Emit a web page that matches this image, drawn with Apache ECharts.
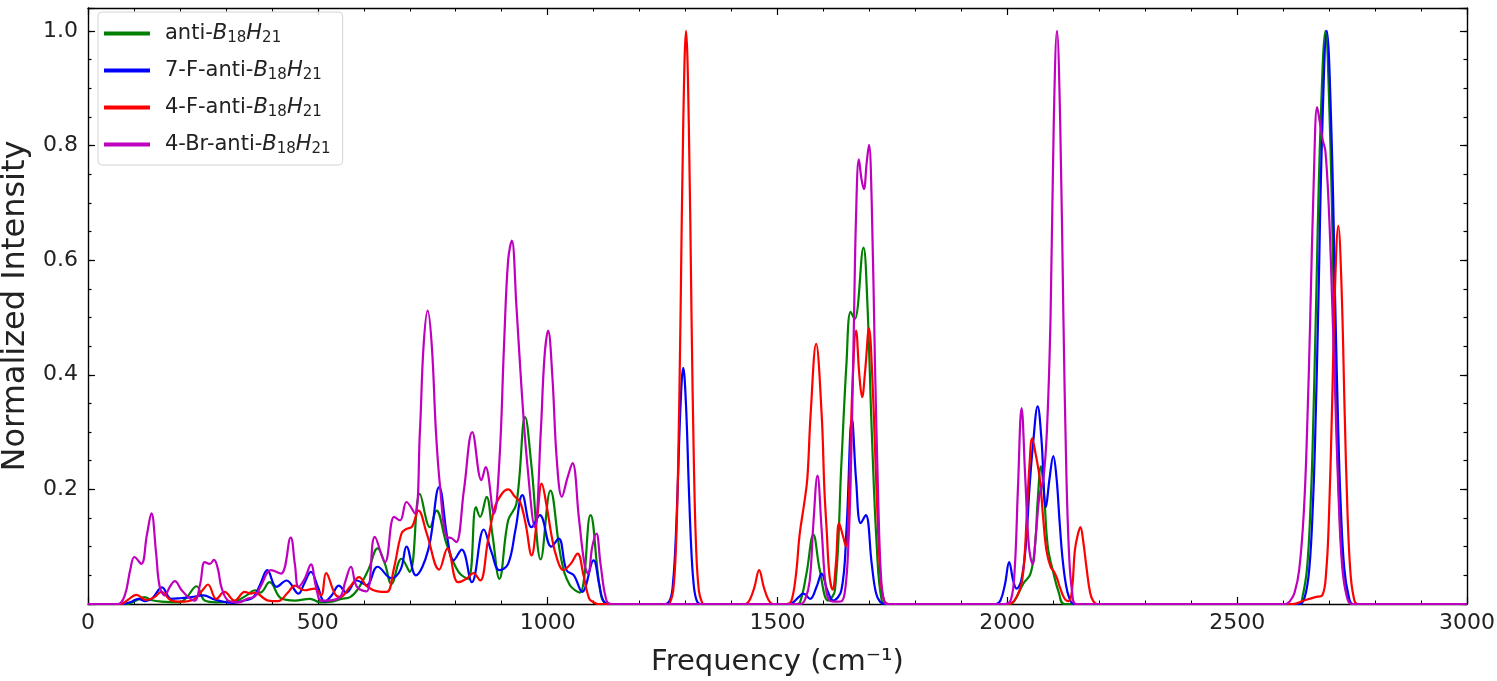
<!DOCTYPE html>
<html>
<head>
<meta charset="utf-8">
<script src="https://cdn.jsdelivr.net/npm/echarts@6/dist/echarts.min.js"></script>
<style>
html, body { margin: 0; padding: 0; background: #fff; }
#chart { width: 1497px; height: 681px; }
</style>
</head>
<body>
<div id="chart"></div>
<script>
// spectra: [frequency (cm-1), normalized intensity]
const antiPts = [
    [0, 0], [85, 0], [105, 0.006], [123, 0.012], [137, 0.007], [160, 0.004], [200, 0.003], [215, 0.012],
    [236, 0.031], [254, 0.006], [280, 0.003], [320, 0.005], [345, 0.015], [363, 0.024], [375, 0.02],
    [395, 0.038], [420, 0.01], [450, 0.006], [483, 0.009], [505, 0.003], [530, 0.004], [551, 0.009],
    [570, 0.012], [588, 0.027], [610, 0.06], [630, 0.097], [646, 0.07], [660, 0.035], [682, 0.079],
    [700, 0.056], [722, 0.192], [744, 0.134], [758, 0.163], [780, 0.105], [806, 0.056], [827, 0.044],
    [844, 0.169], [853, 0.152], [867, 0.187], [880, 0.12], [895, 0.044], [914, 0.146], [932, 0.175],
    [951, 0.326], [965, 0.239], [985, 0.078], [1006, 0.198], [1029, 0.08], [1048, 0.033], [1070, 0.02],
    [1093, 0.155], [1117, 0.012], [1135, 0],
    [1540, 0], [1549, 0.003], [1563, 0.053], [1578, 0.121], [1592, 0.059], [1610, 0.006], [1625, 0.024],
    [1639, 0.245], [1650, 0.419], [1659, 0.51], [1668, 0.497], [1687, 0.622], [1695, 0.535], [1705, 0.303],
    [1716, 0.1], [1727, 0.005], [1740, 0],
    [2005, 0], [2015, 0.005], [2035, 0.036], [2050, 0.052], [2060, 0.1], [2066, 0.18], [2073, 0.24],
    [2080, 0.19], [2088, 0.1], [2100, 0.055], [2112, 0.02], [2125, 0],
    [2635, 0], [2642, 0.012], [2652, 0.062], [2660, 0.178], [2665, 0.3], [2671, 0.5], [2681, 0.825],
    [2692, 1.0], [2702, 0.825], [2711, 0.5], [2717, 0.3], [2722, 0.178], [2730, 0.062], [2740, 0.012],
    [2750, 0], [3000, 0]
];

const f7Pts = [
    [0, 0], [75, 0], [95, 0.004], [109, 0.009], [125, 0.005], [140, 0.01], [161, 0.029], [181, 0.009],
    [200, 0.01], [225, 0.012], [251, 0.015], [275, 0.008], [300, 0.003], [316, 0.002], [340, 0.006],
    [360, 0.012], [375, 0.035], [390, 0.059], [410, 0.03], [432, 0.041], [458, 0.018], [470, 0.035],
    [485, 0.056], [500, 0.03], [515, 0.004], [530, 0.015], [546, 0.032], [562, 0.02], [585, 0.041],
    [606, 0.033], [630, 0.065], [660, 0.045], [680, 0.06], [693, 0.1], [713, 0.05], [740, 0.094],
    [764, 0.204], [782, 0.114], [795, 0.076], [813, 0.095], [835, 0.038], [861, 0.13], [878, 0.09],
    [895, 0.059], [914, 0.07], [930, 0.13], [945, 0.19], [965, 0.134], [983, 0.155], [1008, 0.1],
    [1024, 0.114], [1041, 0.059], [1057, 0.05], [1075, 0.021], [1100, 0.076], [1112, 0.035],
    [1121, 0.006], [1135, 0],
    [1255, 0], [1267, 0.009], [1273, 0.04], [1278, 0.103], [1283, 0.206], [1289, 0.346], [1295, 0.412],
    [1301, 0.346], [1307, 0.206], [1312, 0.103], [1317, 0.04], [1323, 0.009], [1332, 0],
    [1525, 0], [1534, 0.003], [1546, 0.012], [1556, 0.018], [1571, 0.009], [1585, 0.03], [1596, 0.053],
    [1608, 0.025], [1621, 0.006], [1639, 0.024], [1650, 0.129], [1662, 0.323], [1671, 0.216],
    [1681, 0.141], [1692, 0.155], [1705, 0.07], [1714, 0.02], [1723, 0.004], [1735, 0],
    [1975, 0], [1985, 0.006], [1995, 0.035], [2004, 0.073], [2013, 0.04], [2020, 0.027], [2030, 0.04],
    [2040, 0.1], [2048, 0.2], [2056, 0.28], [2066, 0.345], [2074, 0.29], [2084, 0.169], [2092, 0.22],
    [2100, 0.258], [2107, 0.22], [2114, 0.14], [2120, 0.08], [2127, 0.036], [2135, 0.01], [2145, 0],
    [2635, 0], [2647, 0.012], [2657, 0.062], [2665, 0.178], [2670, 0.3], [2676, 0.5], [2685, 0.825],
    [2695, 1.0], [2705, 0.825], [2714, 0.5], [2720, 0.3], [2725, 0.178], [2733, 0.062], [2743, 0.012],
    [2752, 0], [3000, 0]
];

const f4Pts = [
    [0, 0], [70, 0], [85, 0.006], [105, 0.016], [127, 0.007], [145, 0.012], [159, 0.021], [181, 0.006],
    [200, 0.004], [230, 0.008], [250, 0.025], [261, 0.034], [279, 0.009], [297, 0.021], [319, 0.006],
    [341, 0.021], [355, 0.018], [362, 0.02], [392, 0.006], [413, 0.005], [435, 0.02], [450, 0.032],
    [471, 0.024], [493, 0.027], [507, 0.015], [518, 0.054], [537, 0.018], [548, 0.012], [570, 0.03],
    [590, 0.047], [606, 0.031], [630, 0.022], [650, 0.021], [665, 0.06], [682, 0.123], [693, 0.131],
    [705, 0.135], [719, 0.163], [737, 0.123], [764, 0.06], [782, 0.097], [805, 0.038], [825, 0.045],
    [838, 0.054], [853, 0.041], [870, 0.11], [885, 0.169], [900, 0.192], [914, 0.2], [929, 0.187],
    [940, 0.178], [952, 0.14], [965, 0.085], [977, 0.15], [987, 0.21], [998, 0.17], [1009, 0.117],
    [1020, 0.08], [1034, 0.059], [1050, 0.07], [1065, 0.088], [1078, 0.05], [1090, 0.01], [1100, 0.003],
    [1110, 0],
    [1262, 0], [1266, 0.002], [1273, 0.023], [1279, 0.097], [1284, 0.249], [1289, 0.5], [1295, 0.841],
    [1301, 1.0], [1307, 0.841], [1313, 0.5], [1318, 0.249], [1323, 0.097], [1329, 0.023], [1336, 0.002],
    [1340, 0],
    [1430, 0], [1440, 0.008], [1450, 0.03], [1460, 0.059], [1470, 0.03], [1480, 0.008], [1490, 0],
    [1520, 0], [1530, 0.005], [1540, 0.05], [1548, 0.12], [1558, 0.175], [1565, 0.22], [1572, 0.33],
    [1584, 0.454], [1596, 0.332], [1602, 0.2], [1607, 0.129], [1613, 0.05], [1620, 0.025], [1627, 0.07],
    [1634, 0.141], [1642, 0.12], [1649, 0.1], [1656, 0.2], [1663, 0.38], [1671, 0.477], [1678, 0.4],
    [1684, 0.361], [1691, 0.41], [1699, 0.481], [1706, 0.4], [1716, 0.187], [1723, 0.06], [1730, 0.012],
    [1740, 0],
    [2000, 0], [2010, 0.002], [2020, 0.012], [2031, 0.036], [2038, 0.09], [2042, 0.152], [2048, 0.24],
    [2054, 0.289], [2062, 0.26], [2071, 0.216], [2078, 0.15], [2085, 0.094], [2094, 0.065], [2101, 0.057],
    [2108, 0.045], [2114, 0.03], [2124, 0.01], [2133, 0.005], [2140, 0.02], [2147, 0.094], [2153, 0.12],
    [2159, 0.134], [2165, 0.11], [2172, 0.065], [2180, 0.02], [2187, 0.005], [2195, 0],
    [2620, 0], [2645, 0.006], [2670, 0.012], [2685, 0.015], [2694, 0.06], [2700, 0.16], [2706, 0.33],
    [2713, 0.555], [2720, 0.66], [2727, 0.555], [2734, 0.33], [2740, 0.16], [2746, 0.06], [2753, 0.014],
    [2762, 0], [3000, 0]
];

const br4Pts = [
    [0, 0], [65, 0], [80, 0.015], [92, 0.06], [101, 0.082], [116, 0.07], [128, 0.12], [138, 0.158],
    [148, 0.09], [156, 0.03], [167, 0.015], [178, 0.03], [189, 0.04], [203, 0.025], [218, 0.012],
    [232, 0.006], [244, 0.035], [254, 0.073], [265, 0.07], [274, 0.077], [283, 0.06], [290, 0.03],
    [305, 0.006], [327, 0.003], [349, 0.01], [363, 0.013], [377, 0.033], [398, 0.059], [420, 0.053],
    [441, 0.116], [450, 0.07], [458, 0.03], [472, 0.045], [485, 0.069], [496, 0.03], [507, 0.006],
    [519, 0.006], [548, 0.012], [560, 0.04], [572, 0.065], [585, 0.03], [606, 0.022], [624, 0.117],
    [646, 0.073], [666, 0.152], [679, 0.146], [693, 0.178], [711, 0.158], [722, 0.3], [730, 0.45],
    [739, 0.512], [748, 0.45], [757, 0.3], [766, 0.204], [780, 0.117], [791, 0.115], [801, 0.108],
    [818, 0.2], [836, 0.3], [856, 0.216], [865, 0.239], [883, 0.158], [895, 0.25], [905, 0.45],
    [914, 0.6], [922, 0.634], [932, 0.52], [943, 0.378], [955, 0.25], [972, 0.134], [985, 0.3],
    [993, 0.43], [1001, 0.477], [1010, 0.4], [1020, 0.25], [1031, 0.187], [1043, 0.22], [1054, 0.246],
    [1068, 0.15], [1080, 0.07], [1088, 0.053], [1097, 0.1], [1106, 0.123], [1115, 0.07], [1128, 0.006],
    [1140, 0],
    [1550, 0], [1560, 0.008], [1570, 0.04], [1578, 0.14], [1587, 0.224], [1596, 0.13], [1605, 0.03],
    [1614, 0.006], [1630, 0.004], [1640, 0.005], [1648, 0.03], [1654, 0.1], [1659, 0.21], [1666, 0.48],
    [1671, 0.68], [1677, 0.776], [1683, 0.74], [1688, 0.724], [1694, 0.77], [1699, 0.801], [1705, 0.7],
    [1712, 0.42], [1719, 0.187], [1725, 0.05], [1732, 0.005], [1742, 0],
    [1995, 0], [2008, 0.008], [2016, 0.06], [2023, 0.2], [2031, 0.342], [2039, 0.22], [2047, 0.1],
    [2055, 0.07], [2062, 0.12], [2070, 0.19], [2078, 0.216], [2086, 0.3], [2094, 0.5], [2101, 0.84],
    [2108, 1.0], [2115, 0.84], [2122, 0.5], [2128, 0.243], [2134, 0.092], [2141, 0.021], [2150, 0],
    [2605, 0], [2615, 0.005], [2625, 0.02], [2635, 0.06], [2645, 0.16], [2652, 0.3], [2659, 0.5],
    [2667, 0.75], [2674, 0.867], [2680, 0.84], [2686, 0.81], [2692, 0.79], [2700, 0.68], [2707, 0.52],
    [2713, 0.37], [2720, 0.2], [2728, 0.07], [2738, 0.015], [2750, 0], [3000, 0]
];

const seriesNames = ['anti', '7-F-anti', '4-F-anti', '4-Br-anti'];
const seriesData = [antiPts, f7Pts, f4Pts, br4Pts];
const seriesColors = ['#008000', '#0000ff', '#ff0000', '#bf00bf'];
const yTickLabels = ['0.2', '0.4', '0.6', '0.8', '1.0'];

const font = 'DejaVu Sans';
const frame = { color: '#000', width: 1.4 };

let chart = echarts.init(document.getElementById('chart'));

// one axis for major ticks + labels, a twin for the 0.05 minor ticks (no stray minors above 1.0)
function yAxisOf(pos, step, tickLen, showLine, showLabel) {
    return {
        type: 'value', position: pos, min: 0, max: 1.04, interval: step,
        axisLine: { show: showLine, lineStyle: frame },
        axisTick: { show: true, inside: true, length: tickLen, lineStyle: { color: '#000', width: 1.2 } },
        axisLabel: {
            show: showLabel, fontSize: 22, color: '#222', fontFamily: font, margin: 10,
            formatter: function (v) {
                const s = v.toFixed(1);
                return (yTickLabels.includes(s) && Math.abs(v - +s) < 1e-6) ? s : '';
            }
        },
        splitLine: { show: false },
        name: showLabel ? 'Normalized Intensity' : '',
        nameLocation: 'middle', nameGap: 53,
        nameTextStyle: { fontSize: 32, color: '#222', fontFamily: font }
    };
}

function xAxisOf(pos, showLabel) {
    return {
        type: 'value', position: pos, min: 0, max: 3000, interval: 500,
        axisLine: { show: true, onZero: false, lineStyle: frame },
        axisTick: { show: true, inside: true, length: 7, lineStyle: { color: '#000', width: 1.2 } },
        minorTick: { show: true, splitNumber: 5, length: 3.5, lineStyle: { color: '#000', width: 1 } },
        axisLabel: {
            show: showLabel, fontSize: 22, color: '#222', fontFamily: font, margin: 8,
            formatter: function (v) { return String(v); }
        },
        splitLine: { show: false },
        minorSplitLine: { show: false },
        name: showLabel ? 'Frequency (cm⁻¹)' : '',
        nameLocation: 'middle', nameGap: 44,
        nameTextStyle: { fontSize: 29, color: '#222', fontFamily: font }
    };
}

const option = {
    animation: false,
    backgroundColor: '#fff',
    grid: { left: 88, right: 30, top: 8, bottom: 77, containLabel: false, outerBoundsMode: 'none' },
    xAxis: [xAxisOf('bottom', true), xAxisOf('top', false)],
    yAxis: [
        yAxisOf('left', 0.2, 7, true, true),
        yAxisOf('left', 0.05, 3.5, false, false),
        yAxisOf('right', 0.2, 7, true, false),
        yAxisOf('right', 0.05, 3.5, false, false)
    ],
    legend: {
        orient: 'vertical', left: 98, top: 12,
        padding: [9, 12, 8, 6], itemGap: 12,
        itemWidth: 46, itemHeight: 4, icon: 'rect',
        backgroundColor: 'rgba(255,255,255,0.85)',
        borderColor: '#d4d4d4', borderWidth: 1, borderRadius: 4,
        data: seriesNames,
        formatter: function (name) {
            return '{n|' + name + '-}{i|B}{s|18}{i|H}{s|21}';
        },
        textStyle: {
            padding: [0, 0, 0, 10],
            rich: {
                n: { fontSize: 21, lineHeight: 26, color: '#222', fontFamily: font },
                i: { fontSize: 21, lineHeight: 26, color: '#222', fontFamily: font, fontStyle: 'italic' },
                s: { fontSize: 15, lineHeight: 15, color: '#222', fontFamily: font, padding: [10, 0, 0, 0] }
            }
        }
    },
    series: seriesNames.map(function (name, i) {
        return {
            name: name, type: 'line', data: seriesData[i],
            xAxisIndex: 0, yAxisIndex: 0,
            showSymbol: false, smooth: 0.4,
            lineStyle: { width: 2.2, color: seriesColors[i] },
            itemStyle: { color: seriesColors[i] },
            z: 2 + i
        };
    })
};

chart.clear();
option && chart.setOption(option);
</script>
</body>
</html>
